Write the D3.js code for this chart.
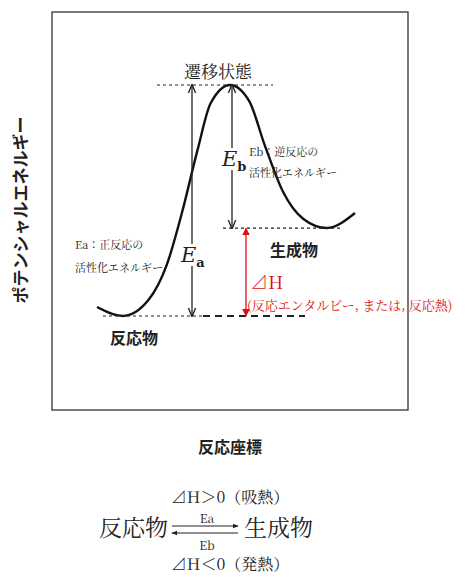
<!DOCTYPE html><html><head><meta charset="utf-8"><script src="https://cdn.jsdelivr.net/npm/d3@7"></script>
<style>body{margin:0;background:#fff}</style></head><body><svg id="c" width="474" height="577"></svg>
<script>
const curveT=[0,1.0,2.0,2.7,3.3,3.9,4.4,5.16,5.9,6.5,7.2,8.0,8.91,10];
const curveE=[3.9,0,7,22,45,72,92,100,93,74,54,42,38.1,44.6];
const levels={reactant:0,ts:100,product:38};
const svg=d3.select("#c");
const x=d3.scaleLinear().domain([0,10]).range([97,355]);
const y=d3.scaleLinear().domain([0,100]).range([316,85]);
const serif="'Noto Serif CJK JP','Noto Sans CJK JP',serif", sans="'Noto Sans CJK JP',sans-serif";
svg.append("defs").html('<marker id="ah" viewBox="0 0 10 10" refX="9" refY="5" markerWidth="7" markerHeight="7" orient="auto-start-reverse"><path d="M0,1L10,5L0,9" fill="none" stroke="#222" stroke-width="1.5"/></marker><marker id="ar" viewBox="0 0 10 10" refX="9" refY="5" markerWidth="6" markerHeight="6" orient="auto-start-reverse"><path d="M0,0L10,5L0,10z" fill="#d11"/></marker><marker id="as" viewBox="0 0 10 10" refX="9" refY="5" markerWidth="6" markerHeight="6" orient="auto"><path d="M0,1L10,5L0,9z" fill="#222"/></marker>');
svg.append("rect").attr("x",52).attr("y",12).attr("width",356).attr("height",398).attr("fill","none").attr("stroke","#333").attr("stroke-width",1.3);
const pts=curveT.map((t,i)=>[t,curveE[i]]);
svg.append("path").attr("d",d3.line().x(d=>x(d[0])).y(d=>y(d[1])).curve(d3.curveMonotoneX)(pts)).attr("fill","none").attr("stroke","#111").attr("stroke-width",2.4);
function hl(x1,x2,e,w,da){svg.append("line").attr("x1",x1).attr("x2",x2).attr("y1",y(e)).attr("y2",y(e)).attr("stroke","#222").attr("stroke-width",w).attr("stroke-dasharray",da);}
hl(157,273,levels.ts,1.2,"3,3");hl(103,203,levels.reactant,1.2,"3,3");hl(203,305,levels.reactant,2,"7,5");hl(223,340,levels.product,1.2,"3,3");
function va(xp,e1,e2,col,m){svg.append("line").attr("x1",xp).attr("x2",xp).attr("y1",y(e1)).attr("y2",y(e2)).attr("stroke",col).attr("stroke-width",1.3).attr("marker-start",`url(#${m})`).attr("marker-end",`url(#${m})`);}
va(192,levels.ts,levels.reactant,"#222","ah");va(232,levels.ts,levels.product,"#222","ah");va(246,levels.product,levels.reactant,"#d11","ar");
function tx(t,xp,yp,sz,o={}){const e=svg.append("text").attr("x",xp).attr("y",yp).attr("font-size",sz).attr("font-family",o.f||serif).attr("fill",o.c||"#222").attr("font-weight",o.b?"bold":"normal").attr("text-anchor",o.a||"start").text(t);if(o.rot)e.attr("transform",`rotate(-90,${xp},${yp})`);return e;}
tx("遷移状態",218,78,17,{a:"middle"});
tx("Eb：逆反応の",249,156,11);tx("活性化エネルギー",249,177,11);
tx("Ea：正反応の",75,249,11);tx("活性化エネルギー",75,272,11);
svg.append("rect").attr("x",222).attr("y",148).attr("width",20).attr("height",22).attr("fill","#fff");
svg.append("rect").attr("x",181).attr("y",244).attr("width",22).attr("height",22).attr("fill","#fff");
tx("E",222,166,21,{f:"'DejaVu Serif',serif"}).attr("font-style","italic").append("tspan").attr("font-size",13).attr("dy",5).attr("font-style","normal").attr("font-weight","bold").text("b");
tx("E",181,262,21,{f:"'DejaVu Serif',serif"}).attr("font-style","italic").append("tspan").attr("font-size",13).attr("dy",5).attr("font-style","normal").attr("font-weight","bold").text("a");
tx("生成物",270,256,16,{b:true,f:sans});
tx("反応物",110,344,16,{b:true,f:sans});
tx("⊿H",250,289,18,{c:"#d11"});
tx("(反応エンタルピー, または, 反応熱)",247,310,13,{c:"#d11"});
tx("ポテンシャルエネルギー",27,210,17,{b:true,f:sans,a:"middle",rot:true});
tx("反応座標",230,453,16,{b:true,f:sans,a:"middle"});
tx("⊿H＞0（吸熱）",230,503,16,{a:"middle"});
tx("反応物",99,536,23);tx("生成物",244,536,23);
tx("Ea",207,523,12,{a:"middle"});tx("Eb",207,550,12,{a:"middle"});
svg.append("line").attr("x1",172).attr("x2",238).attr("y1",526).attr("y2",526).attr("stroke","#222").attr("marker-end","url(#as)");
svg.append("line").attr("x1",238).attr("x2",172).attr("y1",533).attr("y2",533).attr("stroke","#222").attr("marker-end","url(#as)");
tx("⊿H＜0（発熱）",230,570,16,{a:"middle"});
</script></body></html>
